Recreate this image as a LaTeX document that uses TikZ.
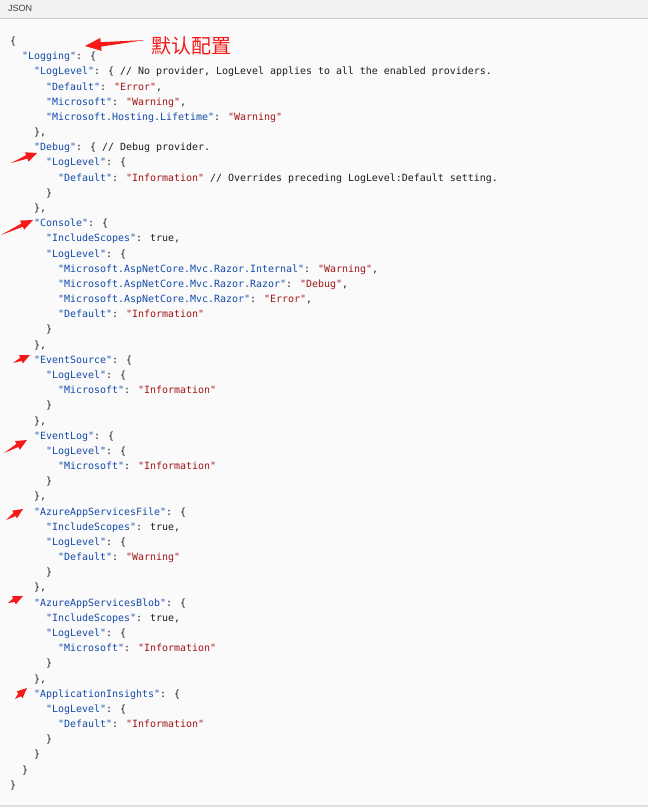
\documentclass[tikz,border=0pt]{standalone}
\usepackage{fontspec}
\setmainfont{Liberation Sans}
\newfontfamily\codefont{DejaVu Sans Mono}
\newfontfamily\cjk{Noto Sans CJK SC}
\usetikzlibrary{calc}
\definecolor{jkey}{RGB}{20,75,170}
\definecolor{jstr}{RGB}{163,21,21}
\definecolor{jpun}{RGB}{30,30,30}
\definecolor{arrred}{RGB}{245,25,25}
\definecolor{bodybg}{RGB}{250,250,250}
\definecolor{headbg}{RGB}{242,242,242}
\newcommand\jk[1]{\textcolor{jkey}{"#1"}}
\newcommand\js[1]{\textcolor{jstr}{"#1"}}
\newcommand\redarr[5]{%
  \coordinate (hb) at ($(#2)!#3!(#1)$);
  \fill[arrred] (#1) -- ($(hb)!#4!90:(#2)$) -- ($(hb)!#5!90:(#2)$) -- (#2)
     -- ($(hb)!#5!-90:(#2)$) -- ($(hb)!#4!-90:(#2)$) -- cycle;}
\begin{document}
\begin{tikzpicture}[x=1pt,y=-1pt,
  ln/.style={anchor=base west,inner sep=0pt,font=\codefont\fontsize{9.96}{12}\selectfont,text=jpun}]
\useasboundingbox (0,0) rectangle (648,807);
\fill[white] (0,0) rectangle (648,807);
\fill[headbg] (0,0) rectangle (648,18.5);
\fill[bodybg] (0,18.5) rectangle (648,805);
\draw[gray!40,line width=0.6pt] (0,18.5) -- (648,18.5);
\fill[gray!25] (0,805) rectangle (648,807);
\node[anchor=base west,inner sep=0pt,font=\fontsize{9}{10}\selectfont,text=black!75] (hdr) at (8,11) {JSON};
\def\L#1#2#3{\node[ln] (l#1) at ({10+6*#2},{44.5+15.18*(#1-1)}) {#3};}
\L{1}{0}{\{}
\L{2}{2}{\jk{Logging}: \{}
\L{3}{4}{\jk{LogLevel}: \{ // No provider, LogLevel applies to all the enabled providers.}
\L{4}{6}{\jk{Default}: \js{Error},}
\L{5}{6}{\jk{Microsoft}: \js{Warning},}
\L{6}{6}{\jk{Microsoft.Hosting.Lifetime}: \js{Warning}}
\L{7}{4}{\},}
\L{8}{4}{\jk{Debug}: \{ // Debug provider.}
\L{9}{6}{\jk{LogLevel}: \{}
\L{10}{8}{\jk{Default}: \js{Information} // Overrides preceding LogLevel:Default setting.}
\L{11}{6}{\}}
\L{12}{4}{\},}
\L{13}{4}{\jk{Console}: \{}
\L{14}{6}{\jk{IncludeScopes}: true,}
\L{15}{6}{\jk{LogLevel}: \{}
\L{16}{8}{\jk{Microsoft.AspNetCore.Mvc.Razor.Internal}: \js{Warning},}
\L{17}{8}{\jk{Microsoft.AspNetCore.Mvc.Razor.Razor}: \js{Debug},}
\L{18}{8}{\jk{Microsoft.AspNetCore.Mvc.Razor}: \js{Error},}
\L{19}{8}{\jk{Default}: \js{Information}}
\L{20}{6}{\}}
\L{21}{4}{\},}
\L{22}{4}{\jk{EventSource}: \{}
\L{23}{6}{\jk{LogLevel}: \{}
\L{24}{8}{\jk{Microsoft}: \js{Information}}
\L{25}{6}{\}}
\L{26}{4}{\},}
\L{27}{4}{\jk{EventLog}: \{}
\L{28}{6}{\jk{LogLevel}: \{}
\L{29}{8}{\jk{Microsoft}: \js{Information}}
\L{30}{6}{\}}
\L{31}{4}{\},}
\L{32}{4}{\jk{AzureAppServicesFile}: \{}
\L{33}{6}{\jk{IncludeScopes}: true,}
\L{34}{6}{\jk{LogLevel}: \{}
\L{35}{8}{\jk{Default}: \js{Warning}}
\L{36}{6}{\}}
\L{37}{4}{\},}
\L{38}{4}{\jk{AzureAppServicesBlob}: \{}
\L{39}{6}{\jk{IncludeScopes}: true,}
\L{40}{6}{\jk{LogLevel}: \{}
\L{41}{8}{\jk{Microsoft}: \js{Information}}
\L{42}{6}{\}}
\L{43}{4}{\},}
\L{44}{4}{\jk{ApplicationInsights}: \{}
\L{45}{6}{\jk{LogLevel}: \{}
\L{46}{8}{\jk{Default}: \js{Information}}
\L{47}{6}{\}}
\L{48}{4}{\}}
\L{49}{2}{\}}
\L{50}{0}{\}}
\node[anchor=west,inner sep=0pt,font=\cjk\fontsize{20}{22}\selectfont,text=arrred] (lbl) at (151,46) {默认配置};
\coordinate (t1) at (145,40); \coordinate (p1) at (85,46);
\redarr{t1}{p1}{16pt}{2.2pt}{6.5pt}
\coordinate (t2) at (11,163); \coordinate (p2) at (37,153);
\redarr{t2}{p2}{11pt}{1.8pt}{5pt}
\coordinate (t3) at (1,235); \coordinate (p3) at (33,220);
\redarr{t3}{p3}{12pt}{1.8pt}{5pt}
\coordinate (t4) at (13,363); \coordinate (p4) at (30,355);
\redarr{t4}{p4}{10pt}{1.8pt}{4.5pt}
\coordinate (t5) at (4,453); \coordinate (p5) at (27,440);
\redarr{t5}{p5}{11pt}{1.8pt}{5pt}
\coordinate (t6) at (6,520); \coordinate (p6) at (23,509);
\redarr{t6}{p6}{10pt}{2pt}{4.5pt}
\coordinate (t7) at (8,603); \coordinate (p7) at (23,596);
\redarr{t7}{p7}{10pt}{2pt}{4.5pt}
\coordinate (t8) at (15,699); \coordinate (p8) at (27,688);
\redarr{t8}{p8}{10pt}{2pt}{4.5pt}
\end{tikzpicture}
\end{document}
